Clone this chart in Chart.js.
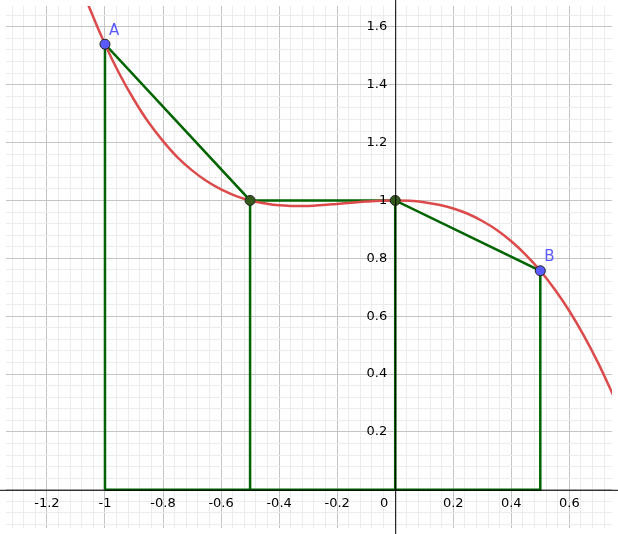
<!DOCTYPE html>
<html><head><meta charset="utf-8">
<script src="https://cdn.jsdelivr.net/npm/chart.js@4/dist/chart.umd.min.js"></script>
<style>html,body{margin:0;padding:0;background:#fff}#w{width:618px;height:534px}</style>
</head><body><div id="w"><canvas id="c"></canvas></div>
<script>
const curveX = [-1.1,-1.05,-1,-0.95,-0.9,-0.85,-0.8,-0.75,-0.7,-0.65,-0.6,-0.55,-0.5,-0.45,-0.4,-0.35,-0.3,-0.25,-0.2,-0.15,-0.1,-0.05,0,0.05,0.1,0.15,0.2,0.25,0.3,0.35,0.4,0.45,0.5,0.55,0.6,0.65,0.7,0.75];
const curveY = [1.789,1.657,1.54,1.437,1.348,1.270,1.205,1.149,1.104,1.067,1.038,1.016,1.0,0.990,0.983,0.981,0.981,0.984,0.988,0.992,0.996,0.999,1.0,0.999,0.994,0.985,0.972,0.954,0.929,0.898,0.859,0.812,0.757,0.692,0.618,0.533,0.437,0.329];
const nodeX = [-1,-0.5,0,0.5];
const nodeY = [1.54,1,1,0.757];
const nodeLabels = ['A','','','B'];
const xTicks = [-1.2,-1,-0.8,-0.6,-0.4,-0.2,0,0.2,0.4,0.6];
const yTicks = [0.2,0.4,0.6,0.8,1,1.2,1.4,1.6];

const pts = (xs,ys)=>xs.map((x,i)=>({x,y:ys[i]}));
const trap = [{x:nodeX[0],y:0}].concat(pts(nodeX,nodeY)).concat([{x:nodeX[3],y:0},{x:nodeX[0],y:0}]);
const verts = [];
for (let i=1;i<nodeX.length-1;i++){verts.push({x:nodeX[i],y:0},{x:nodeX[i],y:nodeY[i]},{x:NaN,y:NaN});}

const axisPlugin={id:'ax',afterDraw(ch){
 const c=ch.ctx,xs=ch.scales.x,ys=ch.scales.y;const x0=xs.getPixelForValue(0),y0=ys.getPixelForValue(0);
 c.save();c.strokeStyle='#000';c.lineWidth=1;
 c.beginPath();c.moveTo(0,y0+0.5);c.lineTo(618,y0+0.5);c.moveTo(x0+0.5,0);c.lineTo(x0+0.5,534);c.stroke();
 c.fillStyle='#000';c.font='13px "DejaVu Sans", sans-serif';
 c.textAlign='center';c.textBaseline='top';
 xTicks.forEach(v=>{const p=xs.getPixelForValue(v);c.fillText(v===0?'0':String(v),v===0?p-11:p,y0+7);});
 c.textAlign='right';c.textBaseline='middle';
 yTicks.forEach(v=>{c.fillText(String(v),x0-8,ys.getPixelForValue(v));});
 c.font='15px "DejaVu Sans", sans-serif';c.fillStyle='#5a5aff';c.textAlign='left';c.textBaseline='bottom';
 nodeX.forEach((x,i)=>{if(nodeLabels[i])c.fillText(nodeLabels[i],xs.getPixelForValue(x)+4,ys.getPixelForValue(nodeY[i])-6);});
 c.restore();}};

const gridCol=ctx=>{const v=ctx.tick.value;return Math.abs(Math.round(v/0.2)*0.2-v)<1e-6?'#c4c4c4':'#ececec';};
new Chart(document.getElementById('c'),{
 type:'scatter',
 data:{datasets:[
  {data:trap,showLine:true,borderColor:'#006400',borderWidth:2.5,backgroundColor:'rgba(0,100,0,0.1)',fill:'origin',pointRadius:0,order:3},
  {data:verts,showLine:true,spanGaps:false,borderColor:'#006400',borderWidth:2.5,pointRadius:0,order:2},
  {data:pts(curveX,curveY),showLine:true,borderColor:'#dc4b4b',borderWidth:2.5,pointRadius:0,tension:0.4,order:1},
  {data:pts(nodeX,nodeY),showLine:false,pointRadius:5,borderWidth:1,borderColor:'#222',
   backgroundColor:['#5a5aff','#335a1a','#335a1a','#5a5aff'],order:0}
 ]},
 options:{animation:false,responsive:true,maintainAspectRatio:false,layout:{padding:{left:-7,right:-6,top:-7,bottom:-7}},
  plugins:{legend:{display:false},tooltip:{enabled:false}},
  scales:{
   x:{type:'linear',min:-1.341,max:0.747,afterBuildTicks:s=>{const t=[];for(let v=-1.32;v<=0.75;v+=0.04)t.push({value:Math.round(v*100)/100});s.ticks=t;},
      ticks:{display:false},grid:{color:gridCol,drawTicks:false},border:{display:false}},
   y:{type:'linear',min:-0.132,max:1.672,afterBuildTicks:s=>{const t=[];for(let v=-0.12;v<=1.68;v+=0.04)t.push({value:Math.round(v*100)/100});s.ticks=t;},
      ticks:{display:false},grid:{color:gridCol,drawTicks:false},border:{display:false}}
  }},
 plugins:[axisPlugin]
});
</script></body></html>
